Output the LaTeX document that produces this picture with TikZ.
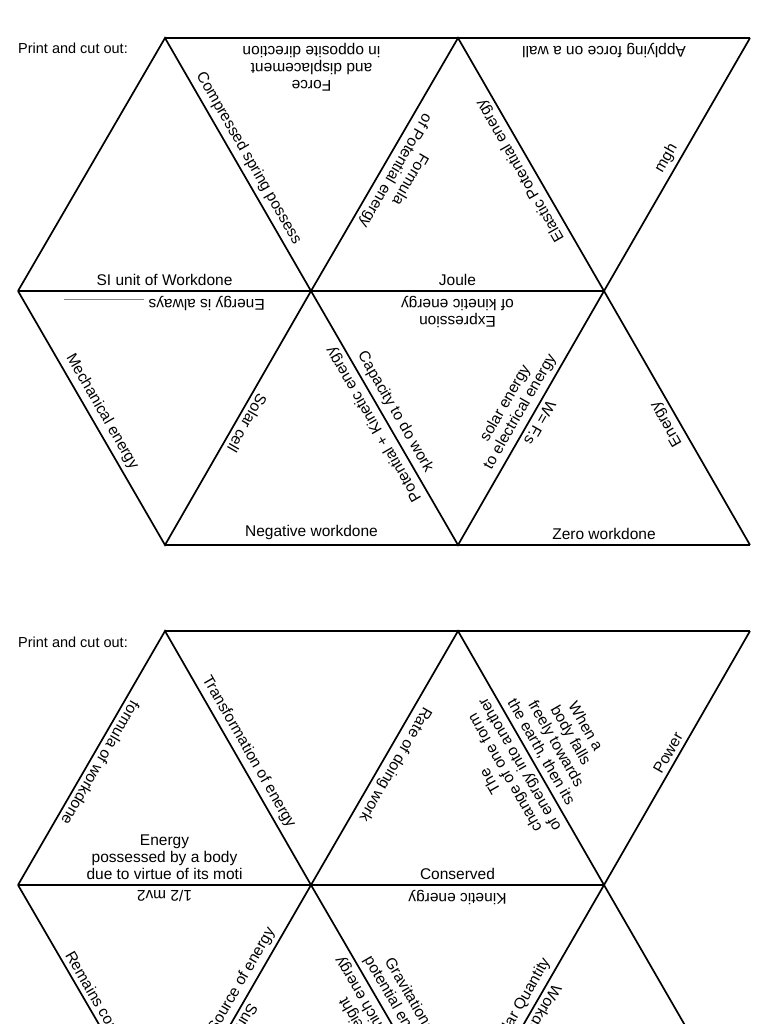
\documentclass[tikz,border=0pt]{standalone}
\usepackage{fontspec}
\setmainfont{Liberation Sans}
\begin{document}
\begin{tikzpicture}[x=1pt,y=-1pt,
  edge/.style={line width=1.7pt,line join=miter},
  lab/.style={midway,sloped,allow upside down,anchor=south,inner sep=0pt,outer ysep=5pt,align=center,font=\fontsize{15.5}{17}\selectfont},
  head/.style={anchor=north west,inner sep=0pt,font=\fontsize{14.5}{16}\selectfont}]
\useasboundingbox (0,0) rectangle (768,1024);
\clip (0,0) rectangle (768,1024);
\fill[white] (0,0) rectangle (768,1024);
% panel 1 coordinates
\coordinate (A1) at (165,38); \coordinate (A2) at (458,38); \coordinate (A3) at (750,38);
\coordinate (B0) at (18,291); \coordinate (B1) at (311,291); \coordinate (B2) at (604,291);
\coordinate (C1) at (165,545); \coordinate (C2) at (458,545); \coordinate (C3) at (750,545);
% panel 2 coordinates
\coordinate (P1) at (165,631); \coordinate (P2) at (458,631); \coordinate (P3) at (750,631);
\coordinate (Q0) at (18,885); \coordinate (Q1) at (311,885); \coordinate (Q2) at (604,885);
\coordinate (R1) at (165,1138); \coordinate (R2) at (458,1138); \coordinate (R3) at (750,1138);

\node[head] (h1) at (18,43) {Print and cut out:};
\node[head] (h2) at (18,637) {Print and cut out:};

% edges panel 1
\draw[edge] (A1) -- (A3);
\draw[edge] (B0) -- (B2);
\draw[edge] (C1) -- (C3);
\draw[edge] (B0) -- (A1) -- (B1) -- (A2) -- (B2) -- (A3);
\draw[edge] (B0) -- (C1) -- (B1) -- (C2) -- (B2) -- (C3);
% edges panel 2
\draw[edge] (P1) -- (P3);
\draw[edge] (Q0) -- (Q2);
\draw[edge] (R1) -- (R3);
\draw[edge] (Q0) -- (P1) -- (Q1) -- (P2) -- (Q2) -- (P3);
\draw[edge] (Q0) -- (R1) -- (Q1) -- (R2) -- (Q2) -- (R3);

% panel 1 labels
\path (B0) -- (B1) node[lab] (t1) {SI unit of Workdone};
\path (A2) -- (A1) node[lab] (t2) {Force\\and displacement\\in opposite direction};
\path (A1) -- (B1) node[lab] (t3) {Compressed spring possess};
\path (B1) -- (B2) node[lab] (t4) {Joule};
\path (A2) -- (B1) node[lab] (t5) {Formula\\of Potential energy};
\path (B2) -- (A2) node[lab] (t6) {Elastic Potential energy};
\path (A3) -- (A2) node[lab] (t7) {Applying force on a wall};
\path (B2) -- (A3) node[lab] (t8) {mgh};
\path (B1) -- (B0) node[lab] (t9) {Energy is always {\color{gray}\rule{80pt}{0.8pt}}};
\path (B0) -- (C1) node[lab] (t10) {Mechanical energy};
\path (C1) -- (C2) node[lab] (t11) {Negative workdone};
\path (B1) -- (C1) node[lab] (t12) {Solar cell};
\path (C2) -- (B1) node[lab] (t13) {Potential + Kinetic energy};
\path (B2) -- (B1) node[lab] (t14) {Expression\\of kinetic energy};
\path (B1) -- (C2) node[lab] (t15) {Capacity to do work};
\path (C2) -- (B2) node[lab] (t16) {solar energy\\to electrical energy};
\path (C2) -- (C3) node[lab] (t17) {Zero workdone};
\path (B2) -- (C2) node[lab] (t18) {W= F.s};
\path (C3) -- (B2) node[lab] (t19) {Energy};

% panel 2 labels
\path (Q0) -- (Q1) node[lab] (s1) {Energy\\possessed by a body\\due to virtue of its moti};
\path (P1) -- (Q0) node[lab] (s2) {formula of workdone};
\path (P1) -- (Q1) node[lab] (s3) {Transformation of energy};
\path (Q1) -- (Q2) node[lab] (s4) {Conserved};
\path (P2) -- (Q1) node[lab] (s5) {Rate of doing work};
\path (Q2) -- (P2) node[lab] (s6) {The\\change of one form\\of energy into another};
\path (P2) -- (Q2) node[lab] (s7) {When a\\body falls\\freely towards\\the earth, then its};
\path (Q2) -- (P3) node[lab] (s8) {Power};
\path (Q1) -- (Q0) node[lab] (s9) {1/2 mv2};
\path (Q0) -- (R1) node[lab] (s10) {Remains constant};
\path (R1) -- (Q1) node[lab,pos=0.6] (s11) {Source of energy};
\path (Q1) -- (R1) node[lab] (s12) {Sun};
\path (R2) -- (Q1) node[lab,pos=0.45] (s13) {at\\certain height\\possesses which energy};
\path (Q2) -- (Q1) node[lab] (s14) {Kinetic energy};
\path (Q1) -- (R2) node[lab] (s15) {Gravitational\\potential energy};
\path (R2) -- (Q2) node[lab] (s16) {Scalar Quantity};
\path (Q2) -- (R2) node[lab] (s17) {Workdone};
\end{tikzpicture}
\end{document}
